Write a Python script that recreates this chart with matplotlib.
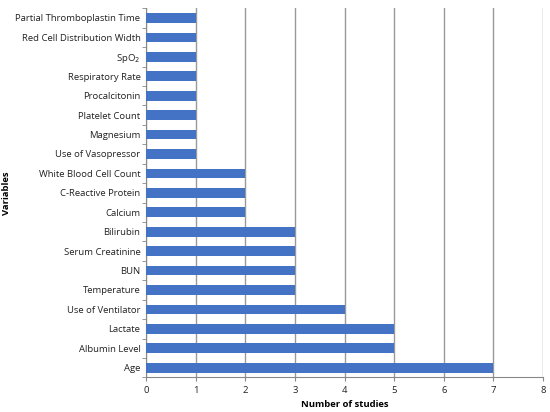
import matplotlib.pyplot as plt
import numpy as np

plt.rcParams["font.family"] = ["Open Sans", "DejaVu Sans"]

variables = [
    "Age", "Albumin Level", "Lactate", "Use of Ventilator", "Temperature",
    "BUN", "Serum Creatinine", "Bilirubin", "Calcium", "C-Reactive Protein",
    "White Blood Cell Count", "Use of Vasopressor", "Magnesium",
    "Platelet Count", "Procalcitonin", "Respiratory Rate", "SpO$_2$",
    "Red Cell Distribution Width", "Partial Thromboplastin Time",
]
studies = [7, 5, 5, 4, 3, 3, 3, 3, 2, 2, 2, 1, 1, 1, 1, 1, 1, 1, 1]
x_ticks = [0, 1, 2, 3, 4, 5, 6, 7, 8]

fig = plt.figure(figsize=(5.5, 4.12), dpi=100)
ax = fig.add_axes([0.2655, 0.084, 0.722, 0.896])

pos = np.arange(len(variables))
ax.barh(pos, studies, height=0.5, color="#4472C4", zorder=3)

ax.set_xlim(0, 8)
ax.set_ylim(-0.5, len(variables) - 0.5)
ax.set_xticks(x_ticks)
ax.set_yticks(pos)
ax.set_yticklabels(variables)
ax.set_yticks(np.arange(-0.5, len(variables)), minor=True)
ax.tick_params(axis="y", which="major", length=0, labelsize=6.8, pad=4, labelcolor="#222222")
ax.tick_params(axis="y", which="minor", length=3, color="#888888")
ax.tick_params(axis="x", length=3, color="#888888", labelsize=6.8, labelcolor="#222222")

ax.grid(axis="x", color="#999999", linewidth=1, zorder=0)
for s in ["top", "right"]:
    ax.spines[s].set_visible(False)
for s in ["left", "bottom"]:
    ax.spines[s].set_color("#888888")

ax.set_xlabel("Number of studies", fontsize=6.8, fontweight="bold", labelpad=3)
ax.set_ylabel("Variables", fontsize=6.8, fontweight="bold")
ax.yaxis.set_label_coords(-0.34, 0.5)

fig.savefig("out.png", dpi=100)
